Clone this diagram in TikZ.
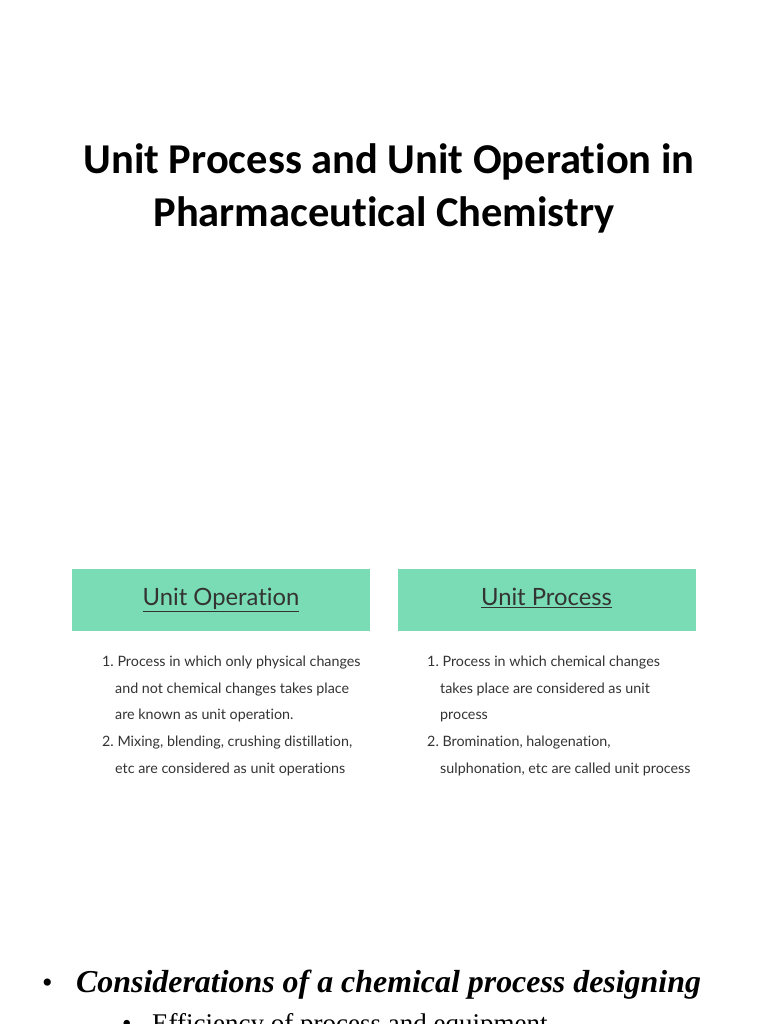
\documentclass[tikz,border=0pt]{standalone}
\usepackage{fontspec}
\setmainfont{Liberation Serif}
\newfontfamily\titlef[Ligatures={NoCommon,NoRare}]{Carlito}
\newfontfamily\listf[Ligatures={NoCommon,NoRare}]{Lato}
\definecolor{boxgreen}{HTML}{7ADCB4}
\definecolor{txtgray}{HTML}{333333}
\begin{document}
\begin{tikzpicture}[x=1pt,y=-1pt,
  hdr/.style={fill=boxgreen,draw=none,minimum width=298pt,minimum height=62pt,inner sep=0pt,text height=17pt,text depth=6pt,font=\listf\fontsize{23.8}{28}\selectfont,text=txtgray},
  li/.style={anchor=base west,inner sep=0pt,font=\listf\fontsize{14.3}{17}\selectfont,text=txtgray},
  ttl/.style={anchor=base,inner sep=0pt,font=\titlef\bfseries\fontsize{42.5}{50}\selectfont}]
\clip (0,0) rectangle (768,1024);
\fill[white] (0,0) rectangle (768,1024);
\node[ttl] (t1) at (389,174) {Unit Process and Unit Operation in};
\node[ttl] (t2) at (384,226) {Pharmaceutical Chemistry};
\node[hdr] (h1) at (221,600) {\underline{Unit Operation}};
\node[hdr] (h2) at (546.5,600) {\underline{Unit Process}};
\node[li] (a1) at (102,666) {1.~Process in which only physical changes};
\node[li] (a2) at (115,693) {and not chemical changes takes place};
\node[li] (a3) at (115,719) {are known as unit operation.};
\node[li] (a4) at (102,746) {2.~Mixing, blending, crushing distillation,};
\node[li] (a5) at (115,773) {etc are considered as unit operations};
\node[li] (b1) at (427,666) {1.~Process in which chemical changes};
\node[li] (b2) at (440,693) {takes place are considered as unit};
\node[li] (b3) at (440,719) {process};
\node[li] (b4) at (427,746) {2.~Bromination, halogenation,};
\node[li] (b5) at (440,773) {sulphonation, etc are called unit process};
\node[anchor=base west,inner sep=0pt,font=\fontsize{30}{34}\selectfont] (c0) at (42,992) {•};
\node[anchor=base west,inner sep=0pt,font=\bfseries\itshape\fontsize{31.9}{36}\selectfont] (c1) at (76,992) {Considerations of a chemical process designing};
\node[anchor=base west,inner sep=0pt,font=\fontsize{27}{30}\selectfont] (d0) at (122,1032) {•};
\node[anchor=base west,inner sep=0pt,font=\fontsize{27}{30}\selectfont] (d1) at (152,1032) {Efficiency of process and equipment};
\end{tikzpicture}
\end{document}
